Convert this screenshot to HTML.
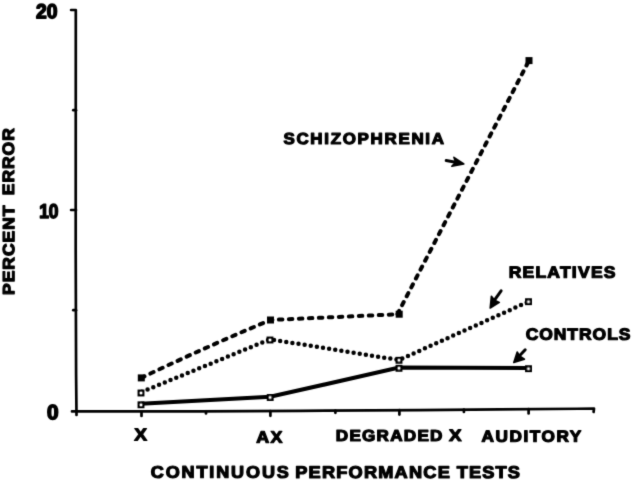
<!DOCTYPE html>
<html><head><meta charset="utf-8">
<style>
html,body{margin:0;padding:0;background:#fff;width:633px;height:481px;overflow:hidden}
svg{display:block}
text{font-family:"Liberation Sans",Arial,sans-serif;font-weight:bold;fill:#000;stroke:#000;stroke-width:1.2px;stroke-linejoin:round}
</style></head>
<body>
<svg width="633" height="481" viewBox="0 0 633 481">
<defs><filter id="soft" x="0" y="0" width="633" height="481" filterUnits="userSpaceOnUse"><feConvolveMatrix order="3" kernelMatrix="1 6 1 6 36 6 1 6 1" divisor="64" edgeMode="none"/></filter></defs>
<rect width="633" height="481" fill="#fff"/>
<g filter="url(#soft)">
<g stroke="#000" stroke-width="2.7" fill="none" stroke-linecap="round" stroke-linejoin="round">
<path d="M71.1 10 H75.8 L75.7 250 L76.1 375 L76.5 415"/>
<path d="M72 411.45 L200 411.3 L300 410.85 L420 410.1 L500 409.4 L594 408.6 L593.6 412"/>
<path d="M71.1 210 H76"/>
<path d="M73.3 110.2 H76"/>
<path d="M73.3 310.2 H76"/>
<path d="M141.5 411.4 V416"/>
<path d="M206 411.3 V413.4"/>
<path d="M270.4 411.1 V415.8"/>
<path d="M335.4 410.6 V412.8"/>
<path d="M399.4 410 V414.6"/>
<path d="M463.9 409.7 V411.9"/>
<path d="M528.6 409.1 V413.5"/>
</g>
<path d="M141.3,377.9 Q205.9,346.9 270.5,320 L399.2,314.2" fill="none" stroke="#000" stroke-width="4" stroke-linecap="round" stroke-dasharray="3.5 6.5"/>
<polyline points="397.5,314 529,60.6" fill="none" stroke="#000" stroke-width="4" stroke-linecap="round" stroke-dasharray="3.5 6.5"/>
<polyline points="141,392.2 270,339.3 399,360 528.5,301.7" fill="none" stroke="#000" stroke-width="4.5" stroke-linecap="round" stroke-dasharray="0 6.2" stroke-dashoffset="5.3"/>
<polyline points="141,403.7 270.2,396.8 399,367.6 528.5,368" fill="none" stroke="#000" stroke-width="4"/>
<g fill="#000">
<rect x="137.8" y="374.4" width="7" height="7"/>
<rect x="267" y="316.5" width="7" height="7"/>
<rect x="395.7" y="310.7" width="7" height="7"/>
<rect x="525.5" y="57.1" width="7" height="7"/>
</g>
<g fill="#fff" stroke="#000" stroke-width="2.3">
<rect x="138.7" y="390.7" width="4.6" height="4.6"/>
<rect x="267.7" y="337.7" width="4.6" height="4.6"/>
<rect x="396.7" y="358" width="4.6" height="4.6"/>
<rect x="526.2" y="299.4" width="4.6" height="4.6"/>
<rect x="138.7" y="402.5" width="4.6" height="4.6"/>
<rect x="267.9" y="395.2" width="4.6" height="4.6"/>
<rect x="396.7" y="366" width="4.6" height="4.6"/>
<rect x="526.2" y="366.4" width="4.6" height="4.6"/>
</g>
<g stroke="#000" stroke-width="3" stroke-linecap="round" stroke-linejoin="round" fill="none">
<path d="M446.2 160.6 L455.5 162.2"/>
<path d="M501.1 290.8 L494.5 300.2"/>
<path d="M525.2 349.8 L519.5 355.8"/>
</g>
<g stroke="#000" stroke-width="1.6" stroke-linejoin="round" fill="#000">
<path d="M463.8 163.9 L453.9 157.3 L455.6 162.3 L451.8 166.2 Z"/>
<path d="M490.2 308 L491.4 296.2 L494.6 300.3 L499.3 302.4 Z"/>
<path d="M513.8 362.4 L517.2 352 L519.6 355.9 L524.4 359.2 Z"/>
</g>

<text transform="translate(283.45,143.96) scale(1.07,1)" rotate="0.05" font-size="15.822" textLength="150.06" lengthAdjust="spacing">SCHIZOPHRENIA</text>
<text transform="translate(508.65,277.78) scale(1.07,1)" rotate="0.05" font-size="16.372" textLength="99.86" lengthAdjust="spacing">RELATIVES</text>
<text transform="translate(525.67,339.85) scale(1.07,1)" rotate="0.05" font-size="16.309" textLength="97.92" lengthAdjust="spacing">CONTROLS</text>
<text x="134.36" y="440.51" rotate="0.05" font-size="17.424" textLength="12.79" lengthAdjust="spacingAndGlyphs">X</text>
<text transform="translate(256.17,442.76) scale(1.07,1)" rotate="0.05" font-size="16.705" textLength="24.63" lengthAdjust="spacing">AX</text>
<text transform="translate(335.81,440.93) scale(1.07,1)" rotate="0.05" font-size="15.984" textLength="99.62" lengthAdjust="spacing">DEGRADED</text>
<text x="448.98" y="441.12" rotate="0.05" font-size="16.444" textLength="12.50" lengthAdjust="spacingAndGlyphs">X</text>
<text transform="translate(481.53,441.85) scale(1.07,1)" rotate="0.05" font-size="16.062" textLength="93.16" lengthAdjust="spacing">AUDITORY</text>
<text transform="translate(150.84,477.86) scale(1.07,1)" rotate="0.05" font-size="16.851" textLength="128.94" lengthAdjust="spacing">CONTINUOUS</text>
<text transform="translate(295.18,477.95) scale(1.07,1)" rotate="0.05" font-size="17.003" textLength="144.53" lengthAdjust="spacing">PERFORMANCE</text>
<text transform="translate(456.63,477.90) scale(1.07,1)" rotate="0.05" font-size="16.978" textLength="59.06" lengthAdjust="spacing">TESTS</text>
<text transform="translate(14.15,294.94) rotate(-90) scale(1.07,1)" rotate="0.05" font-size="16.372" textLength="83.63" lengthAdjust="spacing">PERCENT</text>
<text transform="translate(14.09,195.23) rotate(-90) scale(1.07,1)" rotate="0.05" font-size="16.34" textLength="62.62" lengthAdjust="spacing">ERROR</text>
<text x="35.97" y="18.28" rotate="0.05" font-size="20.261" textLength="21.42" lengthAdjust="spacingAndGlyphs" style="stroke-width:1.6px">20</text>
<text x="39.21" y="218.12" rotate="0.05" font-size="19.917" textLength="19.30" lengthAdjust="spacingAndGlyphs" style="stroke-width:1.6px">10</text>
<text x="46.97" y="419.26" rotate="0.05" font-size="20.64" textLength="11.54" lengthAdjust="spacingAndGlyphs" style="stroke-width:1.6px">0</text>
</g>
</svg>
</body></html>
